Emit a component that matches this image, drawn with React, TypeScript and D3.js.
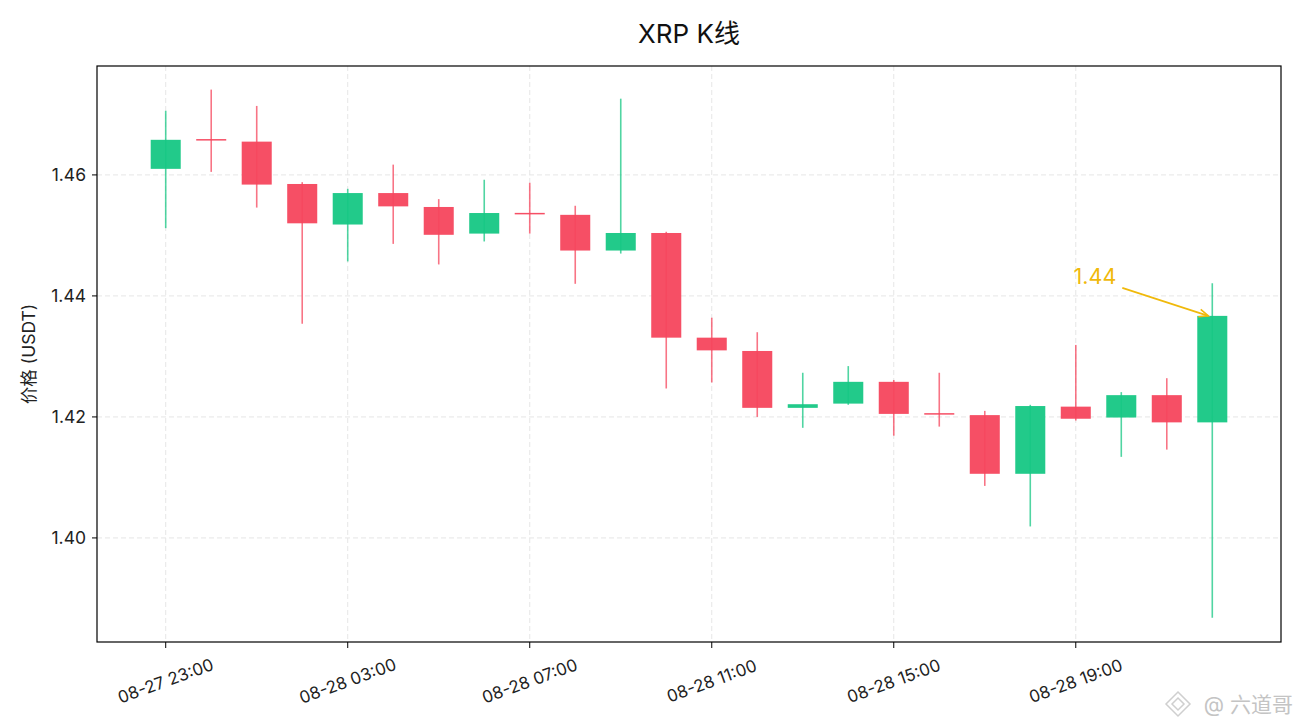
import * as d3 from "d3";

const times = [
  "08-27 23:00", "08-28 00:00", "08-28 01:00", "08-28 02:00", "08-28 03:00", "08-28 04:00",
  "08-28 05:00", "08-28 06:00", "08-28 07:00", "08-28 08:00", "08-28 09:00", "08-28 10:00",
  "08-28 11:00", "08-28 12:00", "08-28 13:00", "08-28 14:00", "08-28 15:00", "08-28 16:00",
  "08-28 17:00", "08-28 18:00", "08-28 19:00", "08-28 20:00", "08-28 21:00", "08-28 22:00",
];
const open = [
  1.4610, 1.4658, 1.4655, 1.4585, 1.4518, 1.4570, 1.4547, 1.4503, 1.4536, 1.4534, 1.4475, 1.4504,
  1.4331, 1.4309, 1.4215, 1.4222, 1.4258, 1.4205, 1.4203, 1.4106, 1.4217, 1.4199, 1.4236, 1.4191,
];
const high = [
  1.4706, 1.4741, 1.4714, 1.4588, 1.4577, 1.4617, 1.4560, 1.4592, 1.4587, 1.4549, 1.4726, 1.4506,
  1.4364, 1.4340, 1.4273, 1.4284, 1.4261, 1.4273, 1.4210, 1.4220, 1.4319, 1.4241, 1.4264, 1.4421,
];
const low = [
  1.4512, 1.4605, 1.4546, 1.4354, 1.4457, 1.4486, 1.4452, 1.4490, 1.4503, 1.4420, 1.4470, 1.4247,
  1.4257, 1.4200, 1.4182, 1.4220, 1.4169, 1.4184, 1.4086, 1.4019, 1.4194, 1.4134, 1.4146, 1.3868,
];
const close = [
  1.4658, 1.4657, 1.4584, 1.4520, 1.4570, 1.4548, 1.4501, 1.4537, 1.4535, 1.4475, 1.4504, 1.4331,
  1.4310, 1.4215, 1.4221, 1.4258, 1.4205, 1.4204, 1.4106, 1.4218, 1.4197, 1.4236, 1.4191, 1.4367,
];
const yTicks = [1.40, 1.42, 1.44, 1.46];
const xTickIdx = [0, 4, 8, 12, 16, 20];

const W = 1300;
const H = 728;
const M = { left: 97, right: 1281, top: 66, bottom: 642 };
const FONT = "Inter, 'Noto Sans CJK SC', sans-serif";
const UP = "#16c784";
const DOWN = "#f6465d";
const GOLD = "#f0b90b";

export default function App() {
  const n = times.length;
  const bw = 0.66;
  const x = d3.scaleLinear().domain([-bw / 2 - 1.18, n - 1 + bw / 2 + 1.18]).range([M.left, M.right]);
  const y = d3.scaleLinear().domain([1.3828, 1.478]).range([M.bottom, M.top]);
  const bodyW = x(bw) - x(0);

  const candles = times.map((t, i) => ({ t, i, o: open[i], h: high[i], l: low[i], c: close[i] }));
  const last = candles[n - 1];
  const ax = x(last.i) - 4;
  const ay = y(last.c);
  const sx = ax - 86;
  const sy = ay - 28;
  const ang = Math.atan2(ay - sy, ax - sx);
  const head = 10;

  return (
    <svg width={W} height={H} style={{ position: "absolute", left: 0, top: 0, background: "#fff" }} fontFamily={FONT}>
      <rect width={W} height={H} fill="#fff" />
      <text x={(M.left + M.right) / 2} y={43} textAnchor="middle" fontSize={26} fill="#111">
        XRP K线
      </text>

      {/* grid */}
      <g stroke="#e6e6e6" strokeDasharray="5,3" strokeWidth={1}>
        {yTicks.map((v) => (
          <line key={v} x1={M.left} x2={M.right} y1={y(v)} y2={y(v)} />
        ))}
        {xTickIdx.map((i) => (
          <line key={i} x1={x(i)} x2={x(i)} y1={M.top} y2={M.bottom} />
        ))}
      </g>

      {/* candles */}
      {candles.map((d) => {
        const col = d.c >= d.o ? UP : DOWN;
        const top = y(Math.max(d.o, d.c));
        const bot = y(Math.min(d.o, d.c));
        const hgt = Math.max(bot - top, 1.5);
        return (
          <g key={d.t}>
            <line x1={x(d.i)} x2={x(d.i)} y1={y(d.h)} y2={y(d.l)} stroke={col} strokeWidth={1.6} opacity={0.75} />
            <rect x={x(d.i) - bodyW / 2} y={bot - top < 1.5 ? top - 0.75 : top} width={bodyW} height={hgt} fill={col} opacity={0.95} />
          </g>
        );
      })}

      {/* frame */}
      <rect x={M.left} y={M.top} width={M.right - M.left} height={M.bottom - M.top} fill="none" stroke="#000" strokeWidth={1.2} />

      {/* y axis */}
      {yTicks.map((v) => (
        <g key={v}>
          <line x1={M.left - 5} x2={M.left} y1={y(v)} y2={y(v)} stroke="#000" />
          <text x={M.left - 11} y={y(v)} dy="0.36em" textAnchor="end" fontSize={17.5} fill="#222">
            {v.toFixed(2)}
          </text>
        </g>
      ))}
      <text transform={`translate(35,${(M.top + M.bottom) / 2}) rotate(-90)`} textAnchor="middle" fontSize={17.5} fill="#222">
        价格 (USDT)
      </text>

      {/* x axis */}
      {xTickIdx.map((i) => (
        <g key={i}>
          <line x1={x(i)} x2={x(i)} y1={M.bottom} y2={M.bottom + 6} stroke="#000" />
          <text
            x={x(i)}
            y={681}
            dy="0.35em"
            textAnchor="middle"
            fontSize={17}
            fill="#222"
            transform={`rotate(-20,${x(i)},681)`}
          >
            {times[i]}
          </text>
        </g>
      ))}

      {/* annotation */}
      <text x={sx - 6} y={sy - 4} textAnchor="end" fontSize={21.5} fill={GOLD}>
        {last.c.toFixed(2)}
      </text>
      <line x1={sx} y1={sy} x2={ax} y2={ay} stroke={GOLD} strokeWidth={1.6} />
      <path
        d={`M${ax - head * Math.cos(ang - 0.4)},${ay - head * Math.sin(ang - 0.4)} L${ax},${ay} L${ax - head * Math.cos(ang + 0.4)},${ay - head * Math.sin(ang + 0.4)}`}
        fill="none"
        stroke={GOLD}
        strokeWidth={1.6}
      />

      {/* watermark */}
      <g stroke="#cfcfcf" fill="none" strokeWidth={1.5}>
        <path d="M1178,692 L1190,704 L1178,716 L1166,704 Z" />
        <path d="M1178,698 L1184,704 L1178,710 L1172,704 Z" />
      </g>
      <text x={1293} y={712} textAnchor="end" fontSize={21} fill="#c4c4c4">
        @ 六道哥
      </text>
    </svg>
  );
}
